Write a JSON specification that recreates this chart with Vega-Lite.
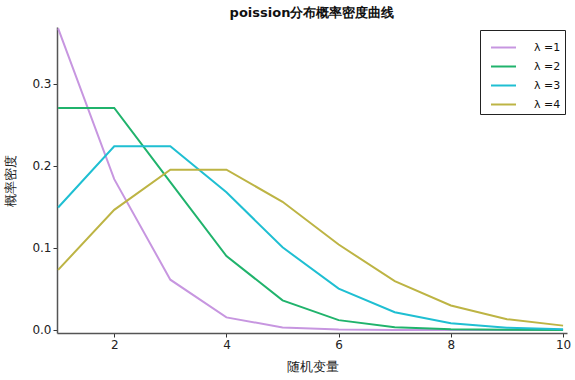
{
  "$schema": "https://vega.github.io/schema/vega-lite/v6.json",
  "width": 510,
  "height": 306,
  "autosize": {"type": "none"},
  "padding": {"left": 57, "top": 27, "right": 8, "bottom": 47},
  "background": "white",
  "title": {"text": "poission分布概率密度曲线", "font": "DejaVu Sans", "fontSize": 13, "fontWeight": "bold", "color": "#111", "offset": 7, "anchor": "middle"},
  "config": {"view": {"stroke": null}, "font": "DejaVu Sans"},
  "data": {"values": [
    {"k": 1, "p": 0.3679, "lam": "λ =1"}, {"k": 2, "p": 0.1839, "lam": "λ =1"}, {"k": 3, "p": 0.0613, "lam": "λ =1"}, {"k": 4, "p": 0.0153, "lam": "λ =1"}, {"k": 5, "p": 0.0031, "lam": "λ =1"}, {"k": 6, "p": 0.0005, "lam": "λ =1"}, {"k": 7, "p": 0.0001, "lam": "λ =1"}, {"k": 8, "p": 0.0000, "lam": "λ =1"}, {"k": 9, "p": 0.0000, "lam": "λ =1"}, {"k": 10, "p": 0.0000, "lam": "λ =1"},
    {"k": 1, "p": 0.2707, "lam": "λ =2"}, {"k": 2, "p": 0.2707, "lam": "λ =2"}, {"k": 3, "p": 0.1804, "lam": "λ =2"}, {"k": 4, "p": 0.0902, "lam": "λ =2"}, {"k": 5, "p": 0.0361, "lam": "λ =2"}, {"k": 6, "p": 0.0120, "lam": "λ =2"}, {"k": 7, "p": 0.0034, "lam": "λ =2"}, {"k": 8, "p": 0.0009, "lam": "λ =2"}, {"k": 9, "p": 0.0002, "lam": "λ =2"}, {"k": 10, "p": 0.0000, "lam": "λ =2"},
    {"k": 1, "p": 0.1494, "lam": "λ =3"}, {"k": 2, "p": 0.2240, "lam": "λ =3"}, {"k": 3, "p": 0.2240, "lam": "λ =3"}, {"k": 4, "p": 0.1680, "lam": "λ =3"}, {"k": 5, "p": 0.1008, "lam": "λ =3"}, {"k": 6, "p": 0.0504, "lam": "λ =3"}, {"k": 7, "p": 0.0216, "lam": "λ =3"}, {"k": 8, "p": 0.0081, "lam": "λ =3"}, {"k": 9, "p": 0.0027, "lam": "λ =3"}, {"k": 10, "p": 0.0008, "lam": "λ =3"},
    {"k": 1, "p": 0.0733, "lam": "λ =4"}, {"k": 2, "p": 0.1465, "lam": "λ =4"}, {"k": 3, "p": 0.1954, "lam": "λ =4"}, {"k": 4, "p": 0.1954, "lam": "λ =4"}, {"k": 5, "p": 0.1563, "lam": "λ =4"}, {"k": 6, "p": 0.1042, "lam": "λ =4"}, {"k": 7, "p": 0.0595, "lam": "λ =4"}, {"k": 8, "p": 0.0298, "lam": "λ =4"}, {"k": 9, "p": 0.0132, "lam": "λ =4"}, {"k": 10, "p": 0.0053, "lam": "λ =4"}
  ]},
  "mark": {"type": "line", "strokeWidth": 2, "clip": true},
  "encoding": {
    "x": {"field": "k", "type": "quantitative", "title": "随机变量",
      "scale": {"domain": [0.98, 10.07], "nice": false, "zero": false},
      "axis": {"values": [2, 4, 6, 8, 10], "grid": false, "domainColor": "#555", "domainWidth": 1.5, "tickColor": "#333", "tickSize": 4, "labelFontSize": 12, "labelColor": "#222", "titleFontSize": 13, "titleFontWeight": "normal", "titleColor": "#222", "titlePadding": 10}},
    "y": {"field": "p", "type": "quantitative", "title": "概率密度",
      "scale": {"domain": [-0.0037, 0.3695], "nice": false, "zero": false},
      "axis": {"values": [0, 0.1, 0.2, 0.3], "format": ".1f", "grid": false, "domainColor": "#555", "domainWidth": 1.5, "tickColor": "#333", "tickSize": 4, "labelFontSize": 12, "labelColor": "#222", "titleFontSize": 13, "titleFontWeight": "normal", "titleColor": "#222", "titlePadding": 14}},
    "color": {"field": "lam", "type": "nominal", "title": null,
      "scale": {"domain": ["λ =1", "λ =2", "λ =3", "λ =4"], "range": ["#c796e0", "#20b36c", "#1fbfd2", "#bdb444"]},
      "legend": {"orient": "none", "legendX": 423, "legendY": 3, "symbolType": "stroke", "symbolSize": 625, "symbolStrokeWidth": 2, "labelFontSize": 11, "labelColor": "#111", "rowPadding": 0, "labelOffset": 17, "strokeColor": "#222", "fillColor": "white", "padding": 4, "symbolOffset": 6}}
  }
}
